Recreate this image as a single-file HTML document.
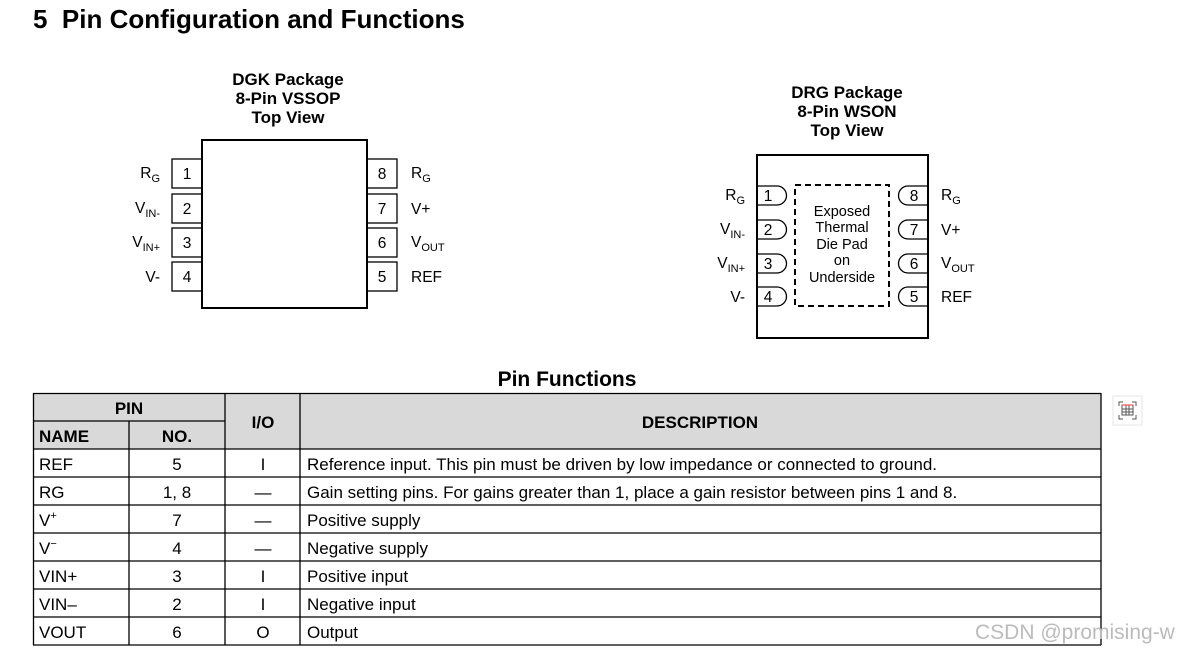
<!DOCTYPE html>
<html><head><meta charset="utf-8"><style>
html,body{margin:0;padding:0;background:#fff;width:1180px;height:652px;overflow:hidden}
svg text{font-family:"Liberation Sans",Arial,sans-serif;fill:#000}
.b{font-weight:bold}
</style></head><body>
<svg width="1180" height="652" viewBox="0 0 1180 652" xmlns="http://www.w3.org/2000/svg" font-family="Liberation Sans, sans-serif">
<text x="33" y="28" font-size="26" class="b">5&#160;&#160;Pin Configuration and Functions</text>

<!-- DGK -->
<g font-size="17" text-anchor="middle">
<text x="288" y="85" class="b">DGK Package</text>
<text x="288" y="104" class="b">8-Pin VSSOP</text>
<text x="288" y="123" class="b">Top View</text>
</g>
<g fill="#fff" stroke="#000" stroke-width="1.3">
<rect x="172" y="159" width="30" height="29"/><rect x="172" y="194" width="30" height="29"/>
<rect x="172" y="228" width="30" height="29"/><rect x="172" y="262" width="30" height="29"/>
<rect x="367" y="159" width="30" height="29"/><rect x="367" y="194" width="30" height="29"/>
<rect x="367" y="228" width="30" height="29"/><rect x="367" y="262" width="30" height="29"/>
<rect x="202" y="140" width="165" height="168" stroke-width="2"/>
</g>
<g font-size="15.5" text-anchor="middle">
<text x="187" y="179">1</text><text x="187" y="214">2</text><text x="187" y="248">3</text><text x="187" y="282">4</text>
<text x="382" y="179">8</text><text x="382" y="214">7</text><text x="382" y="248">6</text><text x="382" y="282">5</text>
</g>
<g font-size="15.5" text-anchor="end">
<text x="160" y="178">R<tspan font-size="11" dy="4">G</tspan></text>
<text x="160" y="213">V<tspan font-size="11" dy="4">IN-</tspan></text>
<text x="160" y="247">V<tspan font-size="11" dy="4">IN+</tspan></text>
<text x="160" y="282">V-</text>
</g>
<g font-size="15.5">
<text x="411" y="178">R<tspan font-size="11" dy="4">G</tspan></text>
<text x="411" y="214">V+</text>
<text x="411" y="247">V<tspan font-size="11" dy="4">OUT</tspan></text>
<text x="411" y="282">REF</text>
</g>

<!-- DRG -->
<g font-size="17" text-anchor="middle">
<text x="847" y="98" class="b">DRG Package</text>
<text x="847" y="117" class="b">8-Pin WSON</text>
<text x="847" y="136" class="b">Top View</text>
</g>
<rect x="757" y="155" width="171" height="183" fill="#fff" stroke="#000" stroke-width="2"/>
<g fill="none" stroke="#000" stroke-width="1.3">
<path d="M757 186 H777 A9.5 9.5 0 0 1 777 205 H757"/>
<path d="M757 220 H777 A9.5 9.5 0 0 1 777 239 H757"/>
<path d="M757 254 H777 A9.5 9.5 0 0 1 777 273 H757"/>
<path d="M757 287 H777 A9.5 9.5 0 0 1 777 306 H757"/>
<path d="M928 186 H908 A9.5 9.5 0 0 0 908 205 H928"/>
<path d="M928 220 H908 A9.5 9.5 0 0 0 908 239 H928"/>
<path d="M928 254 H908 A9.5 9.5 0 0 0 908 273 H928"/>
<path d="M928 287 H908 A9.5 9.5 0 0 0 908 306 H928"/>
<rect x="795" y="185" width="94" height="121" stroke-width="2" stroke-dasharray="6,4"/>
</g>
<g font-size="15.5" text-anchor="middle">
<text x="768" y="201">1</text><text x="768" y="235">2</text><text x="768" y="269">3</text><text x="768" y="302">4</text>
<text x="914" y="201">8</text><text x="914" y="235">7</text><text x="914" y="269">6</text><text x="914" y="302">5</text>
</g>
<g font-size="14.5" text-anchor="middle">
<text x="842" y="216">Exposed</text><text x="842" y="232">Thermal</text><text x="842" y="249">Die Pad</text>
<text x="842" y="265">on</text><text x="842" y="282">Underside</text>
</g>
<g font-size="15.5" text-anchor="end">
<text x="745" y="200">R<tspan font-size="11" dy="4">G</tspan></text>
<text x="745" y="234">V<tspan font-size="11" dy="4">IN-</tspan></text>
<text x="745" y="268">V<tspan font-size="11" dy="4">IN+</tspan></text>
<text x="745" y="302">V-</text>
</g>
<g font-size="15.5">
<text x="941" y="200">R<tspan font-size="11" dy="4">G</tspan></text>
<text x="941" y="235">V+</text>
<text x="941" y="268">V<tspan font-size="11" dy="4">OUT</tspan></text>
<text x="941" y="302">REF</text>
</g>

<!-- Table -->
<text x="567" y="386" font-size="21" class="b" text-anchor="middle">Pin Functions</text>
<rect x="33" y="393" width="1068" height="56" fill="#d9d9d9"/>
<g stroke="#000" stroke-width="1.3" fill="none">
<line x1="33" y1="393.5" x2="1101" y2="393.5"/>
<line x1="33" y1="421" x2="225" y2="421"/>
<line x1="33" y1="449" x2="1101" y2="449"/>
<line x1="33" y1="477" x2="1101" y2="477"/>
<line x1="33" y1="505" x2="1101" y2="505"/>
<line x1="33" y1="533" x2="1101" y2="533"/>
<line x1="33" y1="561" x2="1101" y2="561"/>
<line x1="33" y1="589" x2="1101" y2="589"/>
<line x1="33" y1="617" x2="1101" y2="617"/>
<line x1="33" y1="645" x2="1101" y2="645"/>
<line x1="33.5" y1="393" x2="33.5" y2="645"/>
<line x1="129" y1="421" x2="129" y2="645"/>
<line x1="225" y1="393" x2="225" y2="645"/>
<line x1="300" y1="393" x2="300" y2="645"/>
<line x1="1101" y1="393" x2="1101" y2="645"/>
</g>
<g font-size="17">
<text x="129" y="414" class="b" text-anchor="middle">PIN</text>
<text x="39" y="442" class="b">NAME</text>
<text x="177" y="442" class="b" text-anchor="middle">NO.</text>
<text x="263" y="428" class="b" text-anchor="middle">I/O</text>
<text x="700" y="428" class="b" text-anchor="middle">DESCRIPTION</text>
</g>
<g font-size="17">
<text x="39" y="470">REF</text><text x="39" y="498">RG</text>
<text x="39" y="526">V<tspan font-size="11" dy="-7">+</tspan></text>
<text x="39" y="554">V<tspan font-size="11" dy="-7">&#8722;</tspan></text>
<text x="39" y="582">VIN+</text><text x="39" y="610">VIN–</text><text x="39" y="638">VOUT</text>
</g>
<g font-size="17" text-anchor="middle">
<text x="177" y="470">5</text><text x="177" y="498">1, 8</text><text x="177" y="526">7</text><text x="177" y="554">4</text>
<text x="177" y="582">3</text><text x="177" y="610">2</text><text x="177" y="638">6</text>
<text x="263" y="470">I</text><text x="263" y="498">—</text><text x="263" y="526">—</text><text x="263" y="554">—</text>
<text x="263" y="582">I</text><text x="263" y="610">I</text><text x="263" y="638">O</text>
</g>
<g font-size="17">
<text x="307" y="470">Reference input. This pin must be driven by low impedance or connected to ground.</text>
<text x="307" y="498">Gain setting pins. For gains greater than 1, place a gain resistor between pins 1 and 8.</text>
<text x="307" y="526">Positive supply</text>
<text x="307" y="554">Negative supply</text>
<text x="307" y="582">Positive input</text>
<text x="307" y="610">Negative input</text>
<text x="307" y="638">Output</text>
</g>

<!-- icon -->
<rect x="1113" y="396" width="29" height="29" fill="#fff" stroke="#e4e4e4"/>
<g stroke="#555" fill="none" stroke-width="1">
<path d="M1119 406 V402 H1123 M1132 402 H1136 V406 M1119 415 V419 H1123 M1132 419 H1136 V415"/>
<rect x="1122" y="405" width="11" height="10"/>
<line x1="1122" y1="409" x2="1133" y2="409"/><line x1="1122" y1="412" x2="1133" y2="412"/>
<line x1="1126" y1="405" x2="1126" y2="415"/><line x1="1129" y1="405" x2="1129" y2="415"/>
</g>
<line x1="1122" y1="405" x2="1133" y2="405" stroke="#e55" stroke-width="1.2"/>

<text x="975" y="639" font-size="21" style="fill:#bbb">CSDN @promising-w</text>
</svg>
</body></html>
